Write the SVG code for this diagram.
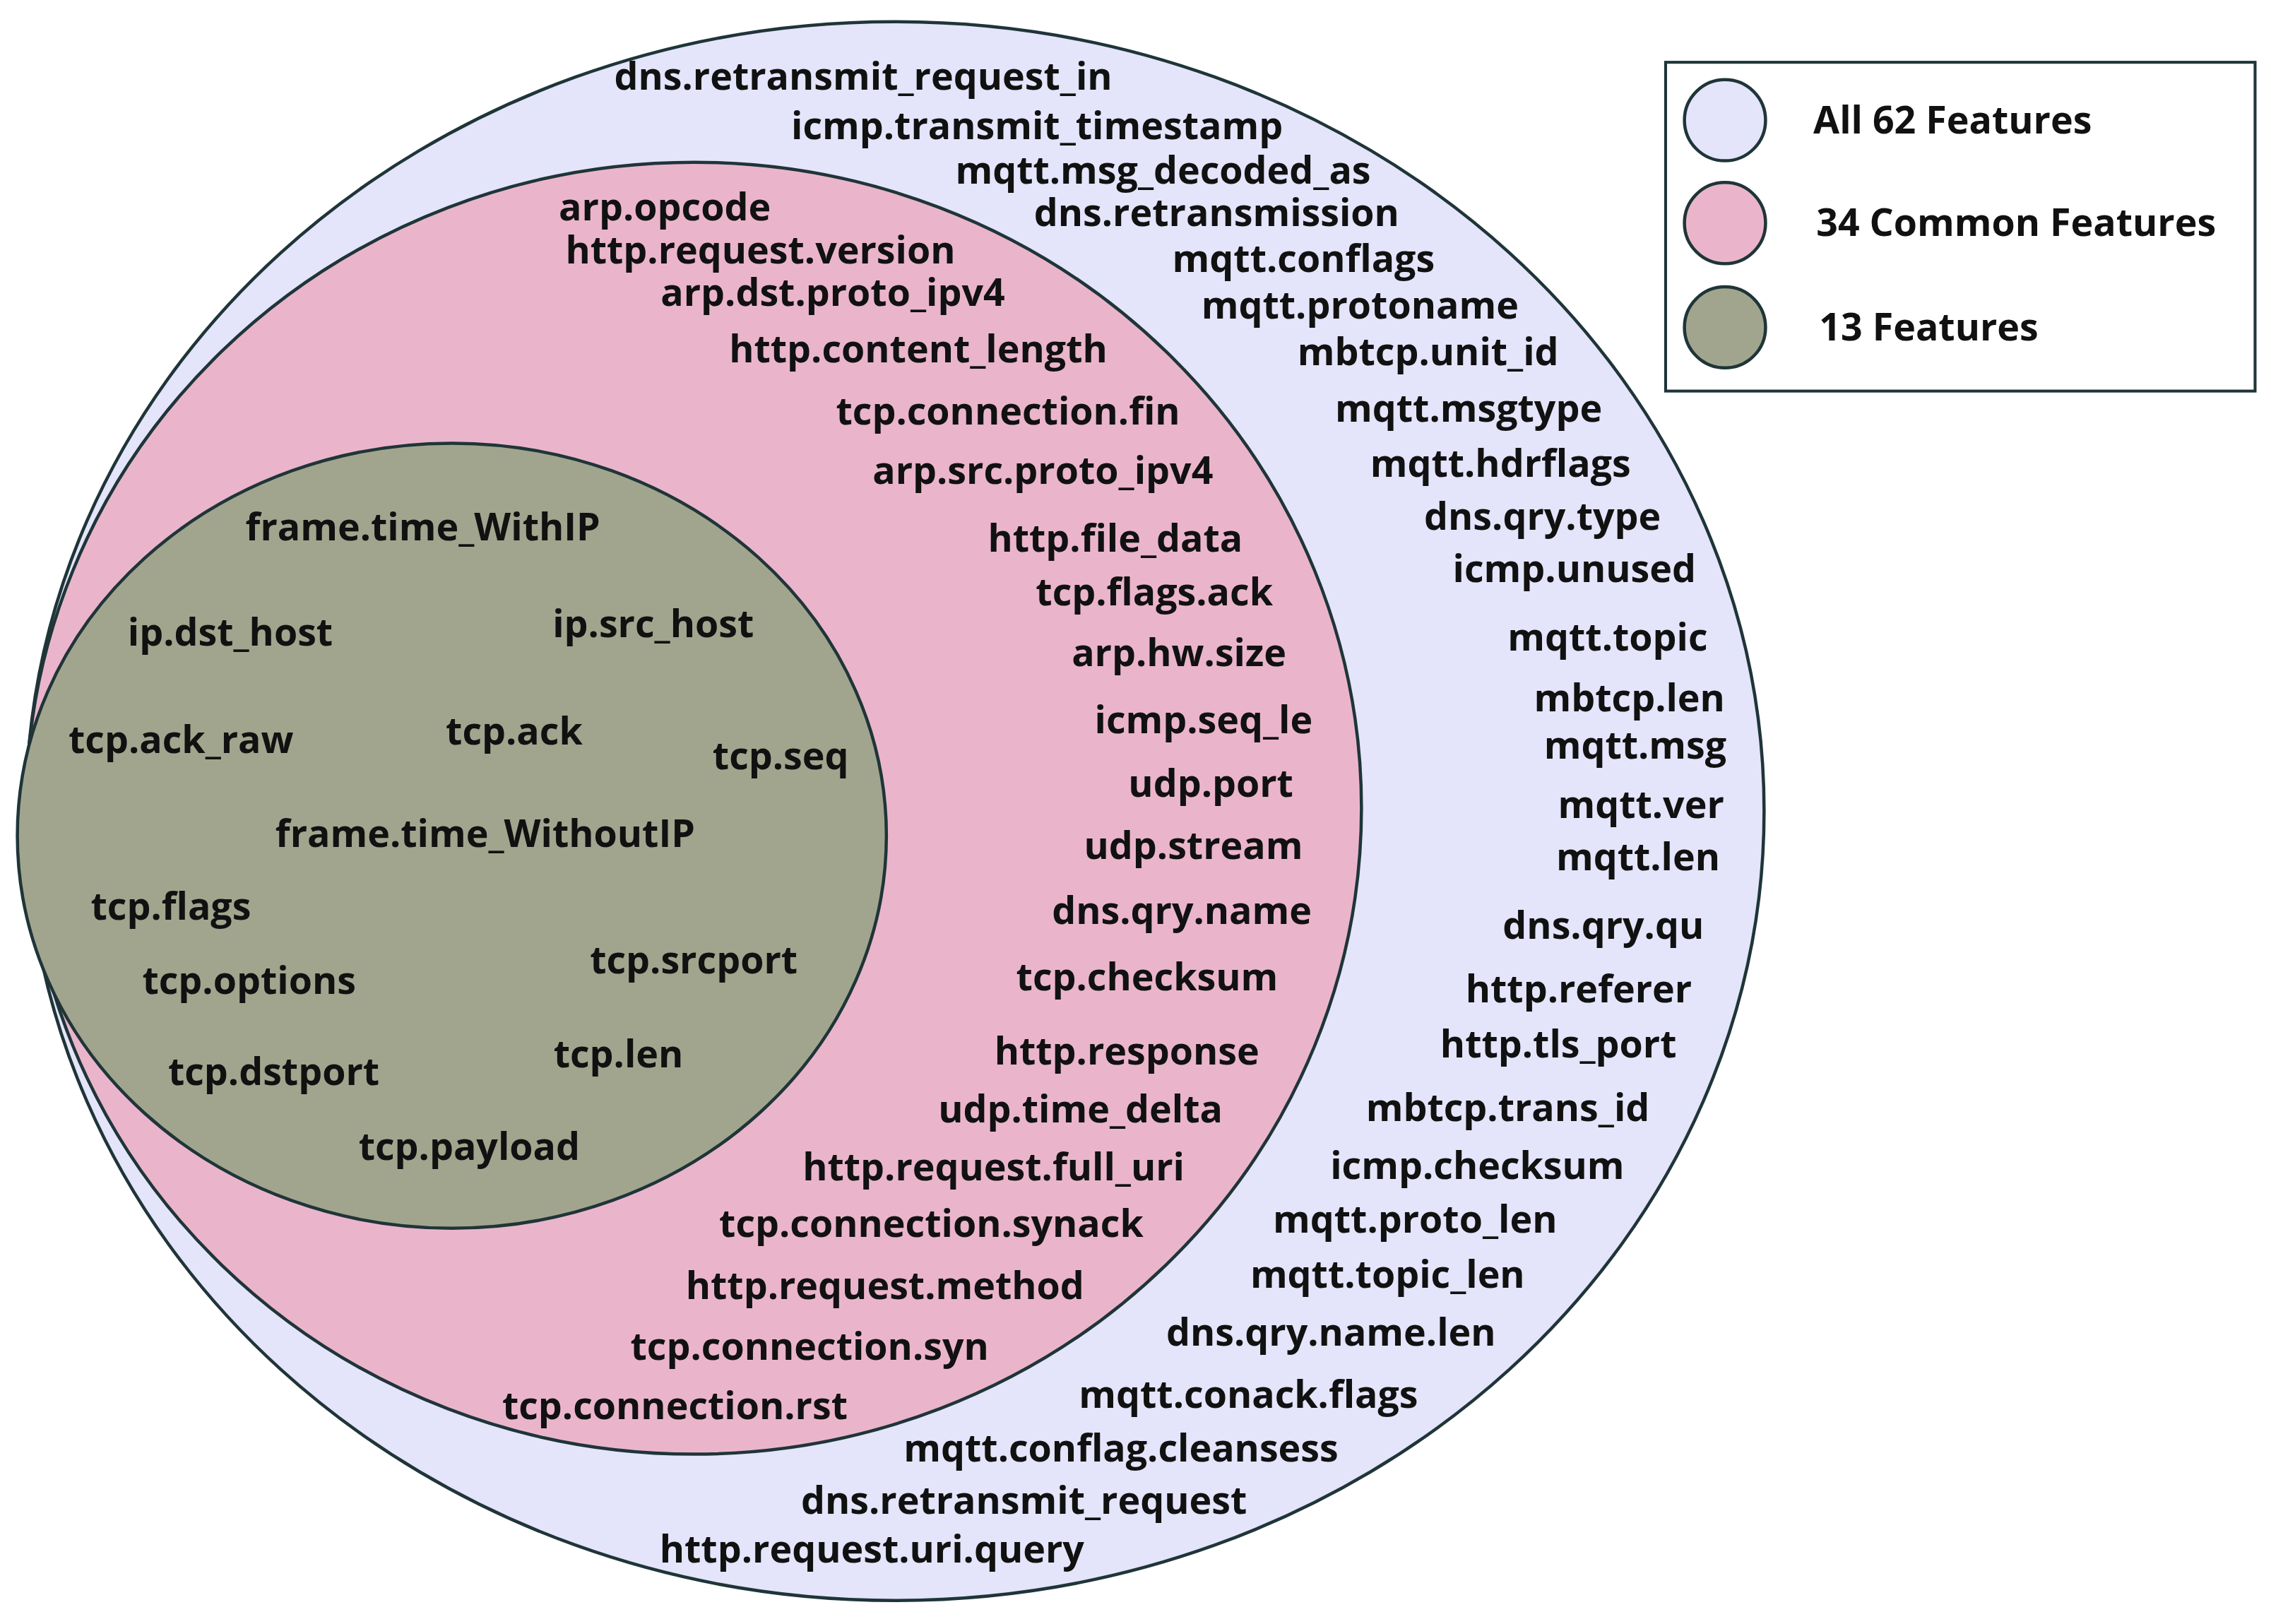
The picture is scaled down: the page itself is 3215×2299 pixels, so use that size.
<svg xmlns="http://www.w3.org/2000/svg" width="3215" height="2299" viewBox="0 0 3215 2299">
<style>
text{font-family:"Open Sans","Liberation Sans",sans-serif;font-weight:bold;font-size:26.2px;fill:#111;text-anchor:middle}
.lg{text-anchor:start}
.sh{stroke:#1f3538;stroke-width:2.2}
</style>
<rect width="3215" height="2299" fill="#fff"/>
<g transform="scale(2.0504)">
<g id="all"><ellipse class="sh" cx="618" cy="560" rx="600" ry="545" fill="#e4e4fb"/>
<g>
<text x="596" y="62">dns.retransmit_request_in</text>
<text x="716" y="96">icmp.transmit_timestamp</text>
<text x="803" y="127">mqtt.msg_decoded_as</text>
<text x="840" y="156">dns.retransmission</text>
<text x="900" y="188">mqtt.conflags</text>
<text x="939" y="220">mqtt.protoname</text>
<text x="986" y="252">mbtcp.unit_id</text>
<text x="1014" y="291">mqtt.msgtype</text>
<text x="1036" y="329">mqtt.hdrflags</text>
<text x="1065" y="366">dns.qry.type</text>
<text x="1087" y="402">icmp.unused</text>
<text x="1110" y="449">mqtt.topic</text>
<text x="1125" y="491">mbtcp.len</text>
<text x="1129" y="524">mqtt.msg</text>
<text x="1133" y="565">mqtt.ver</text>
<text x="1131" y="601">mqtt.len</text>
<text x="1107" y="648">dns.qry.qu</text>
<text x="1090" y="692">http.referer</text>
<text x="1076" y="730">http.tls_port</text>
<text x="1041" y="774">mbtcp.trans_id</text>
<text x="1020" y="814">icmp.checksum</text>
<text x="977" y="851">mqtt.proto_len</text>
<text x="958" y="889">mqtt.topic_len</text>
<text x="919" y="929">dns.qry.name.len</text>
<text x="862" y="972">mqtt.conack.flags</text>
<text x="774" y="1009">mqtt.conflag.cleansess</text>
<text x="707" y="1045">dns.retransmit_request</text>
<text x="602" y="1079">http.request.uri.query</text>
</g></g>
<g id="common"><ellipse class="sh" cx="479" cy="558" rx="461" ry="446" fill="#eab5cb"/>
<g>
<text x="459" y="152">arp.opcode</text>
<text x="525" y="182">http.request.version</text>
<text x="575" y="211">arp.dst.proto_ipv4</text>
<text x="634" y="250">http.content_length</text>
<text x="696" y="293">tcp.connection.fin</text>
<text x="720" y="334">arp.src.proto_ipv4</text>
<text x="770" y="381">http.file_data</text>
<text x="797" y="418">tcp.flags.ack</text>
<text x="814" y="460">arp.hw.size</text>
<text x="831" y="506">icmp.seq_le</text>
<text x="836" y="550">udp.port</text>
<text x="824" y="593">udp.stream</text>
<text x="816" y="638">dns.qry.name</text>
<text x="792" y="684">tcp.checksum</text>
<text x="778" y="735">http.response</text>
<text x="746" y="775">udp.time_delta</text>
<text x="686" y="815">http.request.full_uri</text>
<text x="643" y="854">tcp.connection.synack</text>
<text x="611" y="897">http.request.method</text>
<text x="559" y="939">tcp.connection.syn</text>
<text x="466" y="980">tcp.connection.rst</text>
</g></g>
<g id="thirteen"><ellipse class="sh" cx="312" cy="577" rx="300" ry="271" fill="#a2a58e"/>
<g>
<text x="292" y="373">frame.time_WithIP</text>
<text x="159" y="446">ip.dst_host</text>
<text x="451" y="440">ip.src_host</text>
<text x="125" y="520">tcp.ack_raw</text>
<text x="355" y="514">tcp.ack</text>
<text x="539" y="531">tcp.seq</text>
<text x="335" y="585">frame.time_WithoutIP</text>
<text x="118" y="635">tcp.flags</text>
<text x="479" y="672">tcp.srcport</text>
<text x="172" y="686">tcp.options</text>
<text x="427" y="737">tcp.len</text>
<text x="189" y="749">tcp.dstport</text>
<text x="324" y="801">tcp.payload</text>
</g></g>
<g id="legend">
<rect x="1150" y="43" width="407" height="227" fill="#fff" stroke="#1f3538" stroke-width="2"/>
<circle class="sh" cx="1191" cy="83" r="28" fill="#e4e4fb"/>
<circle class="sh" cx="1191" cy="154" r="28" fill="#eab5cb"/>
<circle class="sh" cx="1191" cy="226" r="28" fill="#a2a58e"/>
<text class="lg" x="1252" y="92">All 62 Features</text>
<text class="lg" x="1254" y="163">34 Common Features</text>
<text class="lg" x="1256" y="235">13 Features</text>
</g>
<g id="connectors"/>
</g>
</svg>
